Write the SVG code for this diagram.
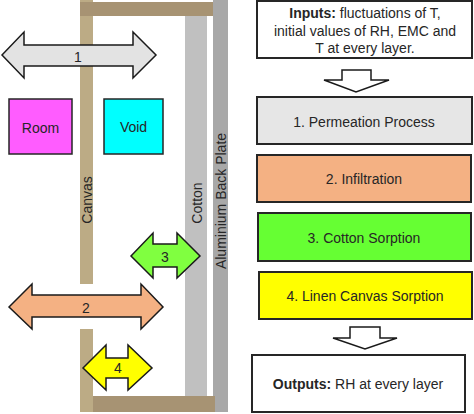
<svg xmlns="http://www.w3.org/2000/svg" width="474" height="414" viewBox="0 0 474 414">
<style>
text{font-family:"Liberation Sans",Arial,sans-serif;font-size:14px;fill:#262626;text-anchor:middle;dominant-baseline:central}
.box{stroke:#262626;stroke-width:2}
.arr{stroke:#1a1a1a;stroke-width:1.5;stroke-linejoin:miter}
.dn{fill:#fff;stroke:#1a1a1a;stroke-width:1.5}
</style>
<rect width="474" height="414" fill="#fff"/>
<g id="structure">
<rect x="80" y="0" width="13" height="284" fill="#bcab85"/>
<rect x="80" y="329" width="13" height="83" fill="#bcab85"/>
<rect x="80" y="2" width="133" height="14" fill="#a79373"/>
<rect x="185" y="16" width="22" height="380" fill="#c0c0c0"/>
<rect x="213" y="0" width="15" height="412" fill="#a8a8a8"/>
<rect x="93" y="396" width="122" height="16" fill="#a79373"/>
<text transform="translate(87,200) rotate(-90)">Canvas</text>
<text transform="translate(197,203) rotate(-90)">Cotton</text>
<text transform="translate(221,201) rotate(-90)">Aluminium Back Plate</text>
</g>
<g id="room"><rect x="9" y="99" width="63" height="55" fill="#ff5cff" stroke="#262626" stroke-width="1.5"/><text x="40.5" y="128">Room</text></g>
<g id="void"><rect x="104" y="99" width="59" height="55" fill="#00ffff" stroke="#262626" stroke-width="1.5"/><text x="133.5" y="127">Void</text></g>
<g id="connectors">
<polygon class="arr" fill="#e3e3e3" points="2,55 24,32 24,45 133,45 133,32 156,55 133,78 133,66 24,66 24,78"/>
<polygon class="arr" fill="#f4b183" points="9,307 32,284 32,295 141,295 141,284 163,307 141,329 141,317 32,317 32,329"/>
<polygon class="arr" fill="#80ff40" points="131,256 153,233 153,244 177,244 177,233 200,256 177,278 177,267 153,267 153,278"/>
<polygon class="arr" fill="#ffff00" points="83,368 106,345 106,358 128,358 128,345 152,368 128,390 128,378 106,378 106,390"/>
<polygon class="dn" points="342,70 371,70 371,80 389,80 356,92 324,80 342,80"/>
<polygon class="dn" points="350,327 380,327 380,338 397,338 365,349 333,338 350,338"/>
</g>
<g id="labels">
<text x="78" y="57">1</text>
<text x="86" y="308">2</text>
<text x="165" y="257">3</text>
<text x="118" y="368">4</text>
</g>
<g id="inputs"><rect class="box" x="257" y="1" width="215" height="57" fill="#fff"/>
<text x="365" y="13"><tspan font-weight="bold">Inputs:</tspan> fluctuations of T,</text>
<text x="365" y="31">initial values of RH, EMC and</text>
<text x="365" y="48">T at every layer.</text></g>
<g id="permeation"><rect class="box" x="257" y="97" width="215" height="47" fill="#e6e6e6"/><text x="364" y="122">1. Permeation Process</text></g>
<g id="infiltration"><rect class="box" x="257" y="155" width="214" height="47" fill="#f4b183"/><text x="364" y="179">2. Infiltration</text></g>
<g id="cottonsorption"><rect class="box" x="258" y="213" width="213" height="48" fill="#66ff33"/><text x="364" y="238">3. Cotton Sorption</text></g>
<g id="linensorption"><rect class="box" x="259" y="272" width="213" height="47" fill="#ffff00"/><text x="365" y="296">4. Linen Canvas Sorption</text></g>
<g id="outputs"><rect class="box" x="252" y="355" width="213" height="57" fill="#fff"/><text x="358" y="384"><tspan font-weight="bold">Outputs:</tspan> RH at every layer</text></g>
</svg>
